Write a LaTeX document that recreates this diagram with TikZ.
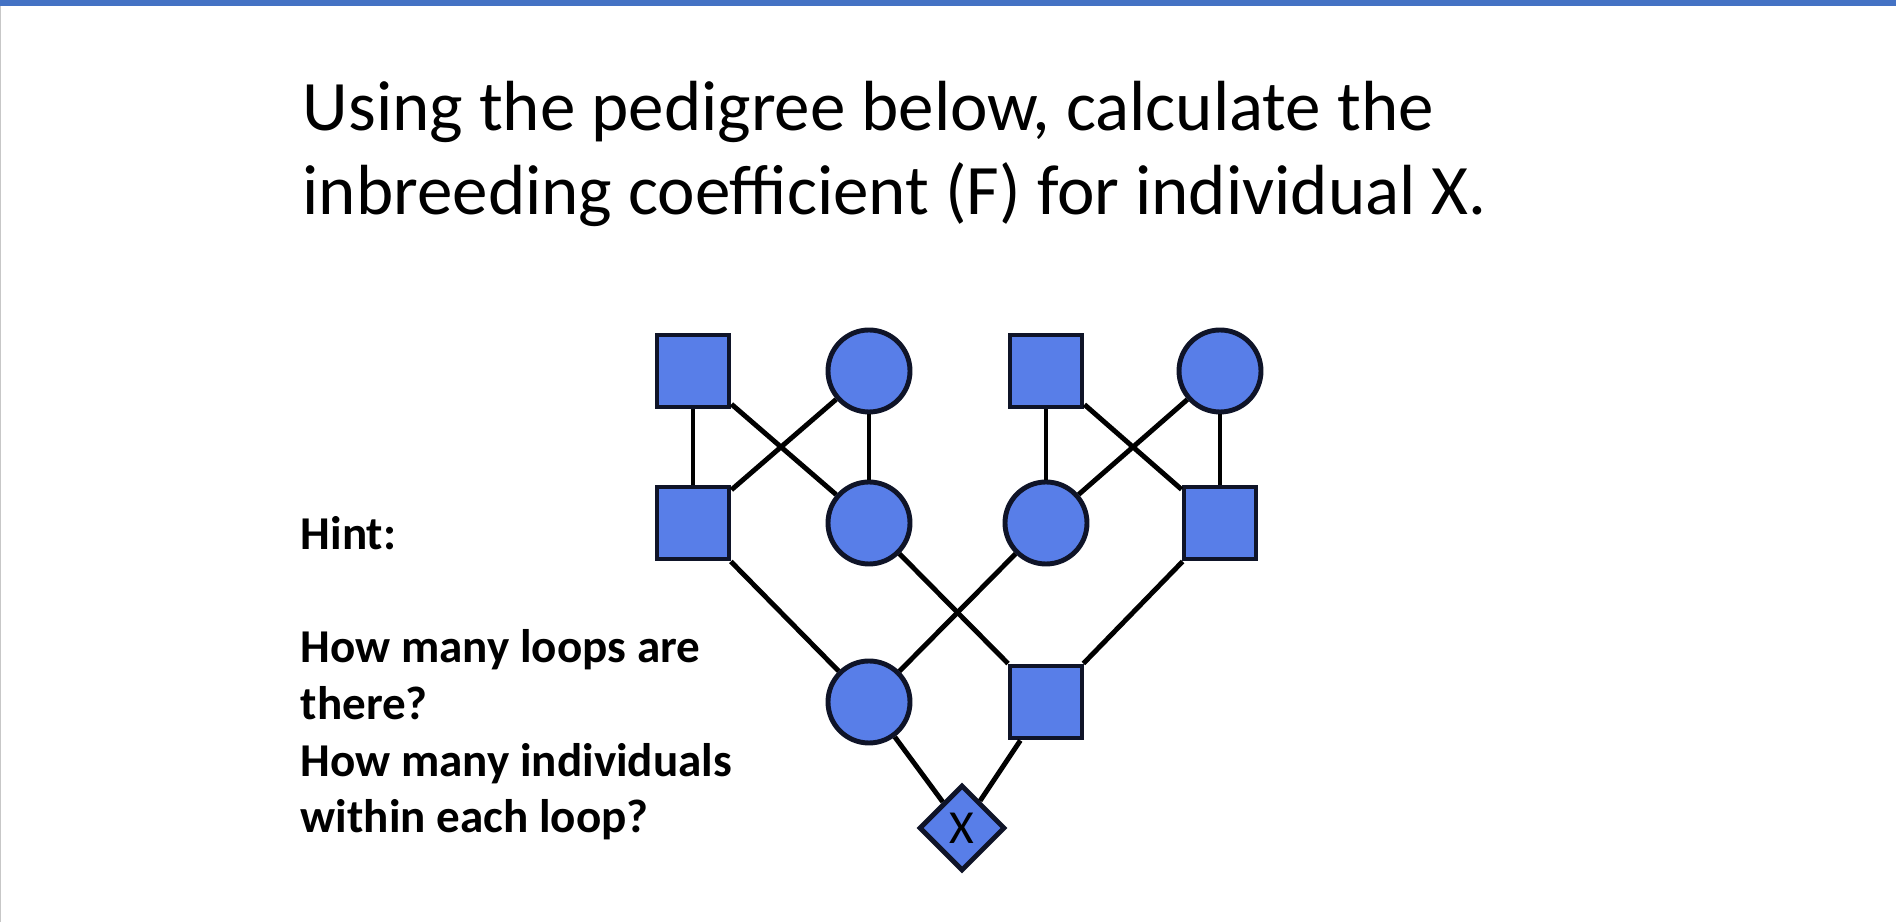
\documentclass[tikz,border=0pt]{standalone}
\usepackage{fontspec}
\setmainfont{Carlito}
\usepackage{xcolor}
\usepackage{tikz}
\usetikzlibrary{shapes.geometric, positioning}
\definecolor{barblue}{RGB}{68,114,196}
\definecolor{pedblue}{RGB}{88,126,232}
\definecolor{peddark}{RGB}{15,20,40}

\begin{document}
\begin{tikzpicture}[on grid, male/.style={rectangle, draw=peddark, fill=pedblue, line width=1.4pt, minimum size=7.2mm, inner sep=0pt}, female/.style={circle, draw=peddark, fill=pedblue, line width=1.4pt, minimum size=8.2mm, inner sep=0pt}, unknown/.style={diamond, draw=peddark, fill=pedblue, line width=1.4pt, minimum size=8.6mm, inner sep=0pt, font=\fontsize{13.5}{13.5}\selectfont}, titletext/.style={anchor=base west, inner sep=0pt, font=\fontsize{20.2}{24}\selectfont}, hinttext/.style={anchor=base west, inner sep=0pt, font=\fontsize{13.4}{16}\selectfont\bfseries}, link/.style={line width=1.4pt, black}]
    \useasboundingbox (0,0) rectangle (18.96,-9.22);
    \fill[barblue] (0,0) rectangle (18.96,-0.06);
    \fill[black!22] (0,-0.06) rectangle (0.015,-9.22);
    
    %Text
    \node[titletext](title1) at (3.02,-1.31){Using the pedigree below, calculate the};
    \node[titletext](title2) at (3.02,-2.15){inbreeding coefficient (F) for individual X.};
    \node[hinttext](hint) at (3.0,-5.50){Hint:};
    \node[hinttext](loops1) at (3.0,-6.63){How many loops are};
    \node[hinttext](loops2) at (3.0,-7.20){there?};
    \node[hinttext](indiv1) at (3.0,-7.77){How many individuals};
    \node[hinttext](indiv2) at (3.0,-8.33){within each loop?};
    
    %Nodes
    \node[male](gpa_m) at (6.93,-3.71){};
    \node[female](gpa_f)[right=1.76cm of gpa_m]{};
    \node[male](gpb_m)[right=1.77cm of gpa_f]{};
    \node[female](gpb_f)[right=1.74cm of gpb_m]{};
    \node[male](son_a)[below=1.52cm of gpa_m]{};
    \node[female](dau_a)[below=1.52cm of gpa_f]{};
    \node[female](dau_b)[below=1.52cm of gpb_m]{};
    \node[male](son_b)[below=1.52cm of gpb_f]{};
    \node[female](mother)[below=1.79cm of dau_a]{};
    \node[male](father)[below=1.79cm of dau_b]{};
    \node[unknown](x)[below right=1.26cm and 0.93cm of mother]{X};
    
    %Lines
    \draw[link] (gpa_m) -- (son_a);
    \draw[link] (gpa_m) -- (dau_a);
    \draw[link] (gpa_f) -- (son_a);
    \draw[link] (gpa_f) -- (dau_a);
    \draw[link] (gpb_m) -- (dau_b);
    \draw[link] (gpb_m) -- (son_b);
    \draw[link] (gpb_f) -- (dau_b);
    \draw[link] (gpb_f) -- (son_b);
    \draw[link] (son_a) -- (mother);
    \draw[link] (dau_b) -- (mother);
    \draw[link] (dau_a) -- (father);
    \draw[link] (son_b) -- (father);
    \draw[link] (mother) -- (x);
    \draw[link] (father) -- (x);
    
    \end{tikzpicture}
\end{document}
